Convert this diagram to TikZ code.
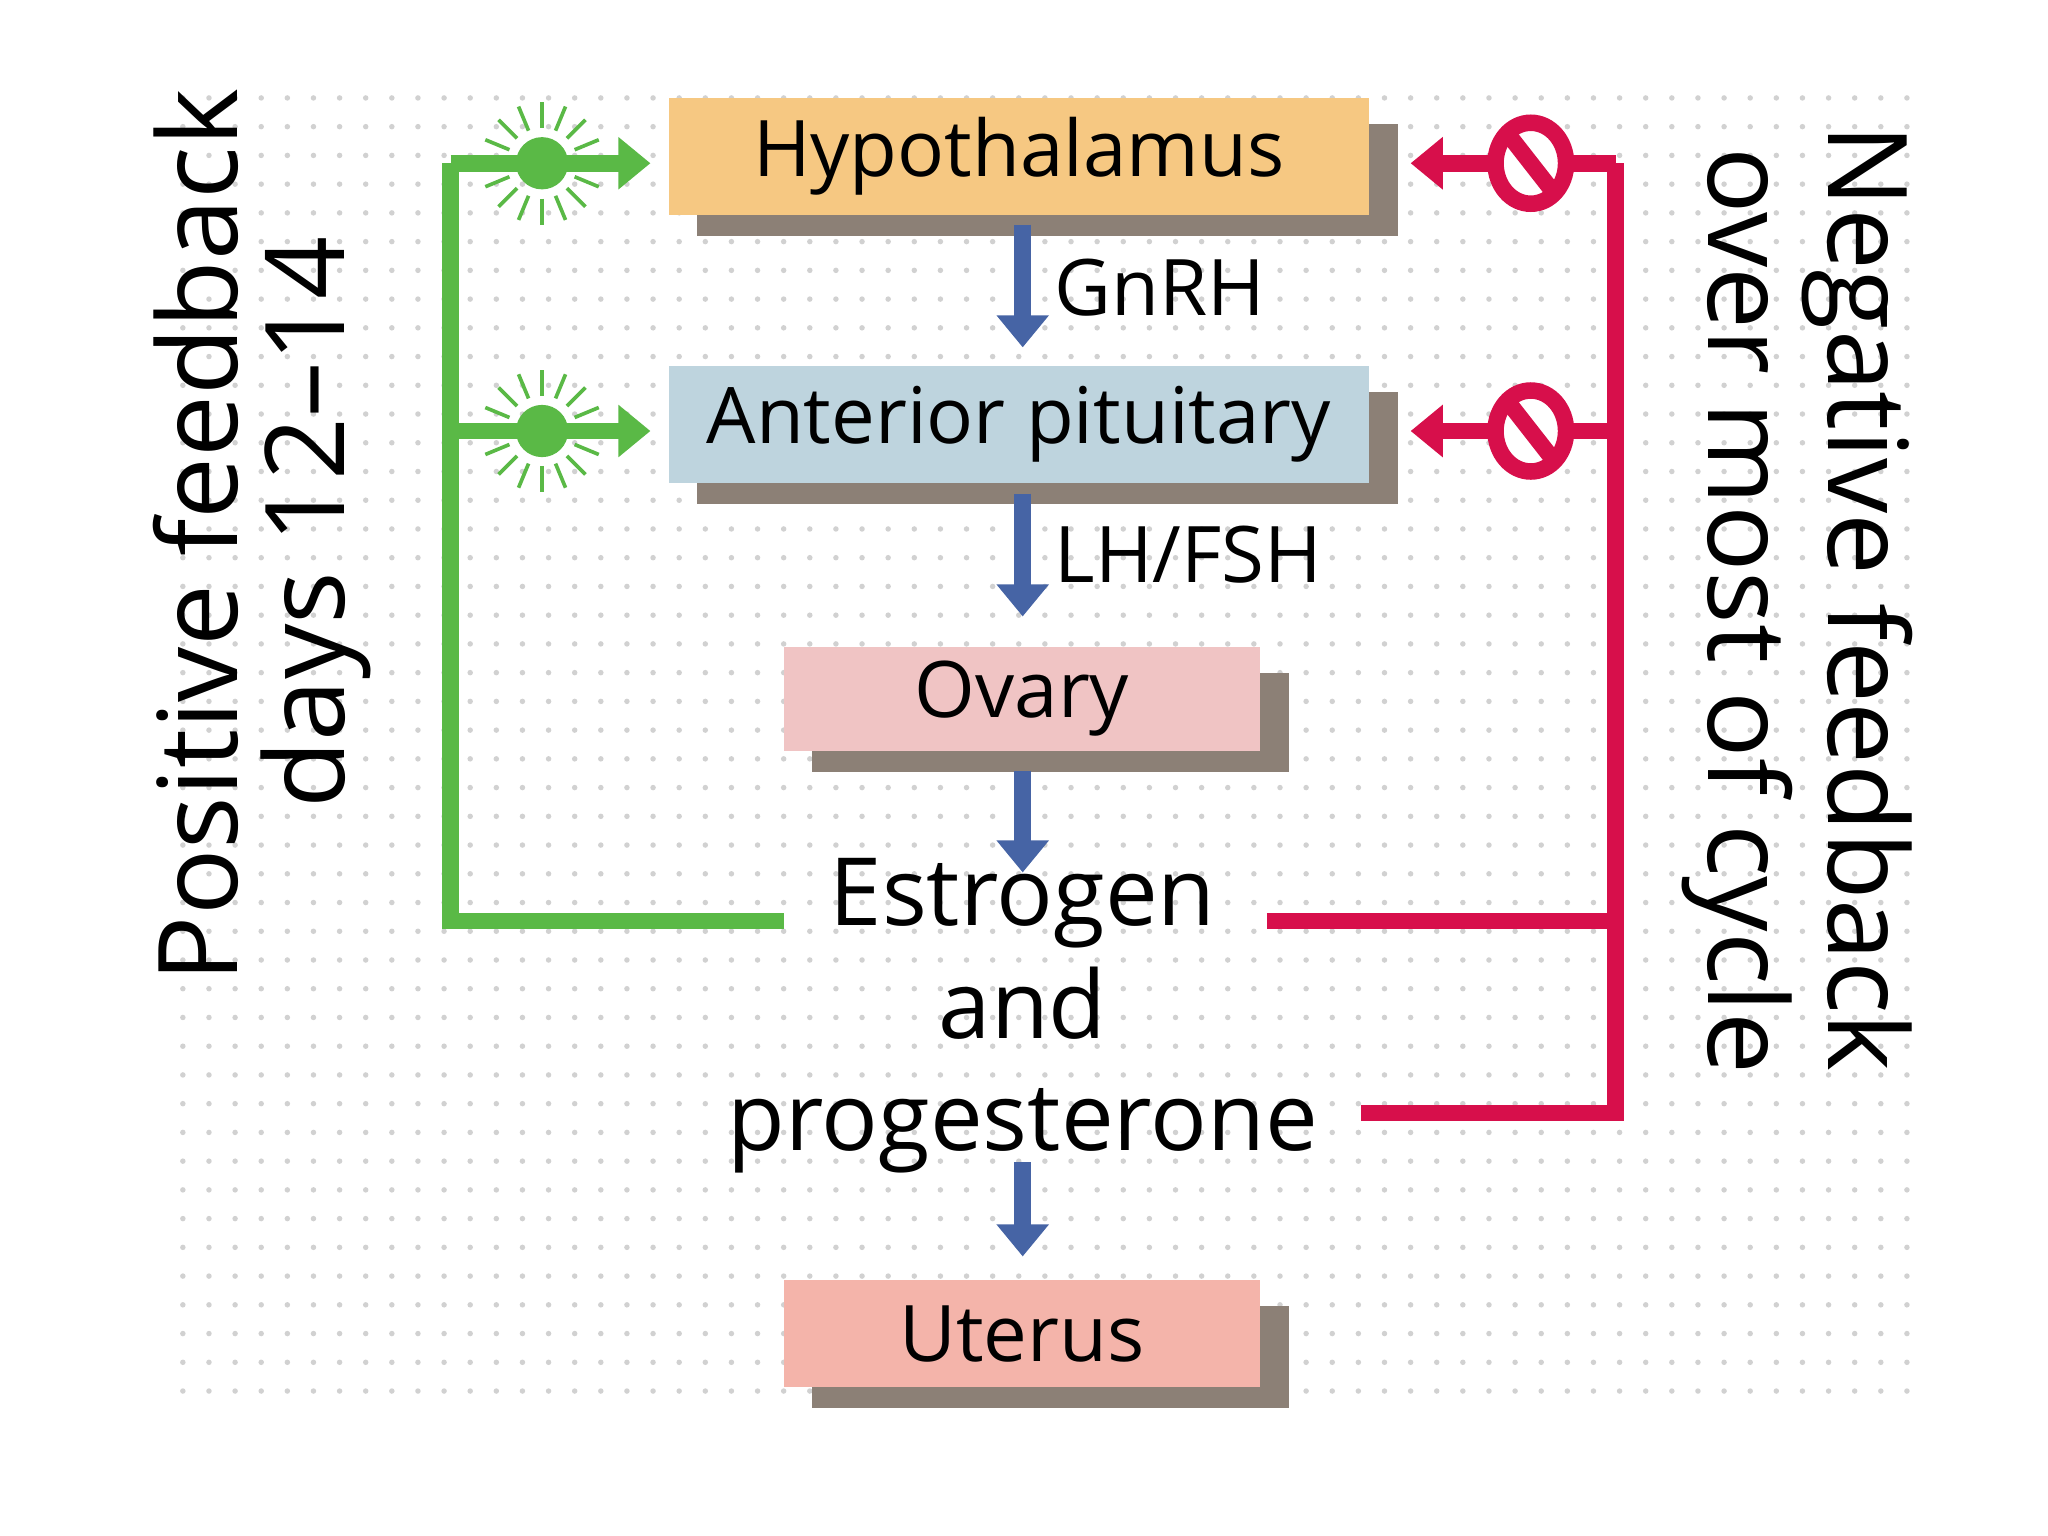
\documentclass[tikz,border=0pt]{standalone}
\usepackage{fontspec}
\setmainfont{Open Sans}
\usetikzlibrary{arrows.meta}
\definecolor{hypo}{RGB}{246,200,130}
\definecolor{pit}{RGB}{190,212,222}
\definecolor{ova}{RGB}{240,196,196}
\definecolor{ute}{RGB}{244,180,170}
\definecolor{shad}{RGB}{140,128,118}
\definecolor{grn}{RGB}{90,185,70}
\definecolor{rd}{RGB}{215,15,75}
\definecolor{blu}{RGB}{70,100,165}
\tikzset{
  box/.style={inner sep=0pt,font=\fontsize{17}{20}\selectfont},
  lbl/.style={font=\fontsize{17}{20}\selectfont},
  big/.style={font=\fontsize{24}{28}\selectfont},
  barrow/.style={blu,line width=3.6pt,-{Triangle[length=7pt,width=11pt]}},
  gline/.style={grn,line width=3.6pt},
  rline/.style={rd,line width=3.6pt},
  tip/.style={-{Triangle[length=7pt,width=11pt]}},
}
\newcommand{\shbox}[6]{% x1 y1 x2 y2 color name
  \fill[shad] ({(#1+22)/100},{-(#2+20)/100}) rectangle ({(#3+22)/100},{-(#4+16)/100});
  \fill[#5] ({#1/100},{-#2/100}) rectangle ({#3/100},{-#4/100});
  \coordinate (#6) at ({(#1+#3)/200},{-(#2+#4)/200});
}
\begin{document}
\begin{tikzpicture}
\useasboundingbox (0,0) rectangle (15.68,-11.76);
% dotted background
\foreach \i in {0,...,66}{\foreach \j in {0,...,45}{\fill[black!18] ({1.4+\i*0.2},{-0.75-\j*0.22}) circle (0.6pt);}}
\shbox{512}{75}{1048}{165}{hypo}{h}
\shbox{512}{280}{1048}{370}{pit}{p}
\shbox{600}{495}{965}{575}{ova}{o}
\shbox{600}{980}{965}{1062}{ute}{u}
\node[box] (hyp) at (h) {Hypothalamus};
\node[box] (ant) at (p) {Anterior pituitary};
\node[box] (ov) at (o) {Ovary};
\node[box] (ut) at (u) {Uterus};
\node[align=center,font=\fontsize{20.5}{24.5}\selectfont] (est) at (7.83,-7.78) {Estrogen\\and\\progesterone};
% blue arrows
\coordinate (a1) at (7.83,-1.72); \coordinate (a2) at (7.83,-2.66);
\coordinate (b1) at (7.83,-3.78); \coordinate (b2) at (7.83,-4.72);
\coordinate (c1) at (7.83,-5.90); \coordinate (c2) at (7.83,-6.68);
\coordinate (d1) at (7.83,-8.90); \coordinate (d2) at (7.83,-9.62);
\draw[barrow] (a1)--(a2); \draw[barrow] (b1)--(b2);
\draw[barrow] (c1)--(c2); \draw[barrow] (d1)--(d2);
\node[lbl,anchor=west] (gn) at (7.95,-2.2) {GnRH};
\node[lbl,anchor=west] (lh) at (7.95,-4.25) {LH/FSH};
% green
\coordinate (g0) at (6.00,-7.05); \coordinate (g1) at (3.45,-7.05);
\coordinate (g2) at (3.45,-1.25); \coordinate (g3) at (3.45,-3.30);
\coordinate (gh) at (4.98,-1.25); \coordinate (gp) at (4.98,-3.30);
\draw[gline] (g0)--(g1)--(g2);
\draw[gline,tip] (g2)--(gh);
\draw[gline,tip] (g3)--(gp);
\foreach \y/\n in {-1.25/s1,-3.30/s2}{
  \fill[grn] (4.15,\y) circle (0.2) coordinate (\n);
  \foreach \a in {0,22.5,...,337.5}{\draw[grn,line width=0.8pt] (4.15,\y) ++(\a:0.27) -- ++(\a:0.2);}
}
% red
\coordinate (r0) at (9.70,-7.05); \coordinate (r1) at (12.37,-7.05);
\coordinate (r2) at (10.42,-8.52); \coordinate (r3) at (12.37,-8.52);
\coordinate (r4) at (12.37,-1.25); \coordinate (r5) at (12.37,-3.30);
\coordinate (rh) at (10.80,-1.25); \coordinate (rp) at (10.80,-3.30);
\draw[rline] (r0)--(r1); \draw[rline] (r2)--(r3)--(r4);
\draw[rline,tip] (r4)--(rh);
\draw[rline,tip] (r5)--(rp);
\foreach \y/\n in {-1.25/i1,-3.30/i2}{
  \draw[rd,line width=3.6pt,fill=white] (11.72,\y) ellipse (0.27 and 0.31) coordinate (\n);
  \draw[rd,line width=3.6pt] (11.72,\y) ++(128:0.29) -- ++(-52:0.58);
}
% side labels
\node[big,rotate=90] (pf) at (1.50,-4.10) {Positive feedback};
\node[big,rotate=90] (dy) at (2.42,-4.00) {days 12–14};
\node[big,rotate=-90] (nf) at (14.22,-4.58) {Negative feedback};
\node[big,rotate=-90] (om) at (13.30,-4.68) {over most of cycle};
\end{tikzpicture}
\end{document}
